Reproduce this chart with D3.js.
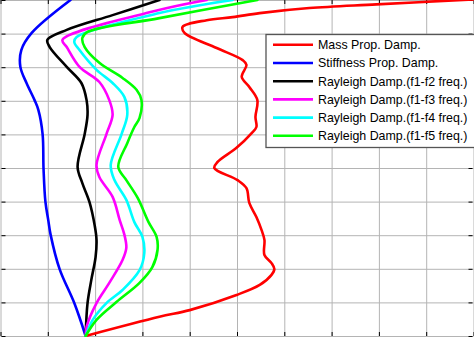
<!DOCTYPE html>
<html>
<head>
<meta charset="utf-8">
<script src="https://cdn.jsdelivr.net/npm/d3@7"></script>
<style>
  html, body { margin: 0; padding: 0; background: #fff; }
  svg { display: block; }
  .legend text { font-family: "Liberation Sans", Arial, sans-serif; font-size: 12.4px; fill: #000; }
</style>
</head>
<body>
<svg id="chart" width="474" height="337"></svg>
<script>
"use strict";

const SVG_WIDTH = 474;
const SVG_HEIGHT = 337;

// grid / tick positions (axis labels are cropped off in the reference)
const X_TICKS = [0, 1, 2, 3, 4, 5, 6, 7, 8, 9, 10];
const Y_TICKS = [0, 1, 2, 3, 4, 5, 6, 7, 8, 9, 10];

const SERIES_NAMES = [
  "Mass Prop. Damp.",
  "Stiffness Prop. Damp.",
  "Rayleigh Damp.(f1-f2 freq.)",
  "Rayleigh Damp.(f1-f3 freq.)",
  "Rayleigh Damp.(f1-f4 freq.)",
  "Rayleigh Damp.(f1-f5 freq.)"
];
const SERIES_COLORS = ["#ff0000", "#0000ff", "#000000", "#ff00ff", "#00ffff", "#00ff00"];

// [x, y] pairs
const massProp = [
  [1.80, 0], [3.36, 0.57], [4.00, 0.77], [4.99, 1.22], [5.48, 1.52], [5.73, 1.82],
  [5.79, 1.99], [5.73, 2.17], [5.58, 2.41], [5.58, 2.86], [5.52, 3.15], [5.41, 3.54],
  [5.26, 3.96], [5.20, 4.40], [5.01, 4.64], [4.52, 5.00], [4.59, 5.18], [4.99, 5.60],
  [5.31, 6.04], [5.41, 6.22], [5.39, 6.52], [5.43, 7.02], [5.26, 7.41], [5.10, 7.71],
  [5.20, 8.07], [5.12, 8.21], [4.57, 8.57], [3.89, 9.02], [3.85, 9.20], [4.36, 9.40],
  [4.91, 9.49], [5.48, 9.61], [6.53, 9.76], [7.95, 9.87], [10.0, 10.02]
];
const stiffnessProp = [
  [1.80, 0], [1.56, 0.98], [1.25, 1.99], [1.06, 3.01], [1.01, 3.45], [0.95, 3.99],
  [0.91, 4.97], [0.89, 6.01], [0.80, 6.73], [0.72, 7.02], [0.55, 7.53], [0.42, 8.01],
  [0.44, 8.51], [0.66, 9.02], [1.48, 10.0]
];
const rayleighF2 = [
  [1.80, 0], [1.84, 0.98], [1.92, 1.67], [2.01, 2.35], [2.03, 2.86], [1.99, 3.30],
  [1.88, 3.99], [1.73, 4.55], [1.63, 5.03], [1.78, 6.01], [1.84, 6.58], [1.82, 7.02],
  [1.71, 7.53], [1.40, 8.01], [1.04, 8.60], [0.99, 8.81], [1.40, 9.11], [2.37, 9.55],
  [3.36, 10.0]
];
const rayleighF3 = [
  [1.80, 0], [1.82, 0.27], [2.03, 0.98], [2.30, 1.58], [2.58, 2.26], [2.66, 2.62],
  [2.62, 3.01], [2.52, 3.45], [2.37, 4.14], [2.09, 4.73], [2.03, 5.09], [2.24, 6.01],
  [2.37, 6.58], [2.30, 7.02], [2.09, 7.56], [1.67, 8.01], [1.40, 8.60], [1.31, 8.81],
  [3.26, 9.67], [4.36, 10.0]
];
const rayleighF4 = [
  [1.80, 0], [1.95, 0.48], [2.24, 0.98], [2.58, 1.37], [2.94, 1.96], [3.04, 2.47],
  [3.00, 2.95], [2.83, 3.39], [2.66, 4.05], [2.41, 4.64], [2.33, 5.09], [2.56, 6.01],
  [2.68, 6.58], [2.62, 7.11], [2.37, 7.53], [2.03, 7.92], [1.67, 8.51], [1.56, 8.75],
  [1.61, 8.90], [3.36, 9.61], [4.91, 10.0]
];
const rayleighF5 = [
  [1.80, 0], [2.03, 0.48], [2.45, 1.01], [2.94, 1.58], [3.21, 2.05], [3.32, 2.56],
  [3.30, 2.95], [3.13, 3.39], [2.90, 4.11], [2.66, 4.64], [2.49, 5.03], [2.68, 5.74],
  [2.83, 6.22], [2.94, 6.49], [2.98, 7.02], [2.88, 7.32], [2.58, 7.68], [2.09, 8.13],
  [1.78, 8.60], [1.73, 8.87], [1.84, 9.05], [3.36, 9.46], [5.43, 10.0]
];

const SERIES = [massProp, stiffnessProp, rayleighF2, rayleighF3, rayleighF4, rayleighF5];

const PLOT = { LEFT: 0.5, RIGHT: 473.5, TOP: 0, BOTTOM: 336 };

const x = d3.scaleLinear().domain([0, 10]).range([PLOT.LEFT, PLOT.RIGHT]);
const y = d3.scaleLinear().domain([0, 10]).range([PLOT.BOTTOM, PLOT.TOP]);

const svg = d3.select("#chart");

function drawGrid() {
  const w = PLOT.RIGHT - PLOT.LEFT;
  const h = PLOT.BOTTOM - PLOT.TOP;
  svg.append("g").attr("transform", `translate(0,${PLOT.BOTTOM})`)
  .call(d3.axisBottom(x).tickValues(X_TICKS).tickSize(-h).tickFormat(""))
  .call(g => g.select(".domain").remove())
  .call(g => g.selectAll(".tick line").attr("stroke", "#b4b4b4").attr("stroke-width", 1));
  svg.append("g").attr("transform", `translate(${PLOT.LEFT},0)`)
  .call(d3.axisLeft(y).tickValues(Y_TICKS).tickSize(-w).tickFormat(""))
  .call(g => g.select(".domain").remove())
  .call(g => g.selectAll(".tick line").attr("stroke", "#b4b4b4").attr("stroke-width", 1));
}

function drawTicks() {
  const len = 4;
  const tickStyle = g => g.call(s => s.select(".domain").remove())
    .selectAll(".tick line").attr("stroke", "#000").attr("stroke-width", 1);
  svg.append("g").attr("transform", `translate(0,${PLOT.BOTTOM})`)
  .call(d3.axisBottom(x).tickValues(X_TICKS).tickSize(-len).tickFormat("")).call(tickStyle);
  svg.append("g").attr("transform", `translate(0,${PLOT.TOP})`)
  .call(d3.axisTop(x).tickValues(X_TICKS).tickSize(-len).tickFormat("")).call(tickStyle);
  svg.append("g").attr("transform", `translate(${PLOT.LEFT + 1},0)`)
  .call(d3.axisLeft(y).tickValues(Y_TICKS).tickSize(-len).tickFormat("")).call(tickStyle);
  svg.append("g").attr("transform", `translate(${PLOT.RIGHT - 1},0)`)
  .call(d3.axisRight(y).tickValues(Y_TICKS).tickSize(-len).tickFormat("")).call(tickStyle);
}

function drawLines() {
  const line = d3.line().x(d => x(d[0])).y(d => y(d[1])).curve(d3.curveCatmullRom.alpha(0.5));
  SERIES.forEach((data, i) => {
    svg.append("path").datum(data)
    .attr("fill", "none")
    .attr("stroke", SERIES_COLORS[i])
    .attr("stroke-width", 2.6)
    .attr("stroke-linejoin", "round")
    .attr("stroke-linecap", "round")
    .attr("d", line);
  });
}

function drawLegend() {
  const boxX = 266, boxY = 34.5, rowStart = 44.8, rowStep = 18.2;
  const legend = svg.append("g").attr("class", "legend");
  legend.append("rect")
  .attr("x", boxX).attr("y", boxY).attr("width", 230).attr("height", 113)
  .attr("fill", "#fff").attr("stroke", "#555").attr("stroke-width", 1.3);
  SERIES_NAMES.forEach((name, i) => {
    const ry = rowStart + rowStep * i;
    legend.append("line")
    .attr("x1", 273).attr("x2", 313).attr("y1", ry).attr("y2", ry)
    .attr("stroke", SERIES_COLORS[i]).attr("stroke-width", 2.6);
    legend.append("text").attr("x", 318).attr("y", ry + 4.4).text(name);
  });
}

drawGrid();
drawTicks();
drawLines();
drawLegend();
</script>
</body>
</html>
